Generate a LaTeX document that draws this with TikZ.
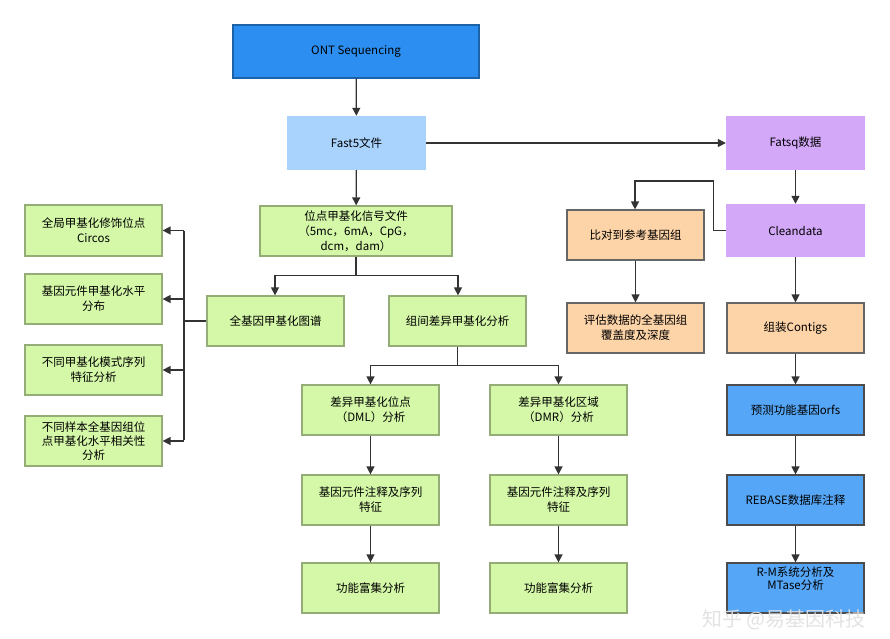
\documentclass[tikz,border=0pt]{standalone}
\usepackage{fontspec}
\setmainfont{Noto Sans CJK SC}
\usetikzlibrary{arrows.meta}
\definecolor{cblue}{HTML}{2B8EF0}
\definecolor{clblue}{HTML}{A9D3FD}
\definecolor{cpurp}{HTML}{D3A8F8}
\definecolor{corg}{HTML}{FDD3A8}
\definecolor{cgrn}{HTML}{D4F7A8}
\definecolor{cmblue}{HTML}{55A6F6}
\definecolor{cline}{HTML}{333333}
\begin{document}
\begin{tikzpicture}[x=1pt,y=-1pt,
 box/.style={draw=#1!70!black,line width=1.2pt,inner sep=0pt,align=center,font=\fontsize{11.5}{15}\selectfont},
 g/.style={box=cgrn,fill=cgrn},
 o/.style={box=corg,fill=corg,draw=gray!80!black},
 p/.style={fill=cpurp,inner sep=0pt,align=center,font=\fontsize{11.5}{15}\selectfont},
 ar/.style={draw=cline,line width=1.3pt,-{Triangle[length=8pt,width=8pt]}},
 ln/.style={draw=cline,line width=1.3pt}]
\useasboundingbox (0,0) rectangle (890,638);
\def\bx#1#2#3#4#5#6#7{\node[#2,minimum width=#5-#3,minimum height=#6-#4] (#1) at ({(#3+#5)/2},{(#4+#6)/2}) {#7};}
\bx{ont}{box=cblue,fill=cblue,draw=cblue!70!black}{233}{25}{479}{78}{ONT Sequencing}
\bx{f5}{p,fill=clblue}{287}{116}{426}{170}{Fast5文件}
\bx{fq}{p}{726}{116}{865}{170}{Fatsq数据}
\bx{cd}{p}{726}{204}{865}{257}{Cleandata}
\bx{bd}{o}{567}{210}{704}{260}{比对到参考基因组}
\bx{pg}{o}{567}{303}{704}{353}{评估数据的全基因组\\覆盖度及深度}
\bx{zz}{o}{727}{303}{864}{353}{组装Contigs}
\bx{yc}{box=cmblue,fill=cmblue,draw=gray!60!black}{727}{385}{864}{435}{预测功能基因orfs}
\bx{rb}{box=cmblue,fill=cmblue,draw=gray!60!black}{727}{475}{864}{525}{REBASE数据库注释}
\bx{rm}{box=cmblue,fill=cmblue,draw=gray!60!black}{727}{563}{864}{613}{}
\node[font=\fontsize{11.5}{13}\selectfont,align=center,anchor=north,inner sep=0pt] (rmt) at (795.5,567) {R-M系统分析及\\MTase分析};
\bx{wd}{g}{260}{206}{452}{256}{位点甲基化信号文件\\（5mc，6mA，CpG，\\dcm，dam）}
\bx{qj}{g}{207}{296}{344}{346}{全基因甲基化图谱}
\bx{zj}{g}{389}{296}{526}{346}{组间差异甲基化分析}
\bx{dml}{g}{302}{385}{439}{435}{差异甲基化位点\\（DML）分析}
\bx{dmr}{g}{490}{385}{627}{435}{差异甲基化区域\\（DMR）分析}
\bx{ja}{g}{302}{475}{439}{525}{基因元件注释及序列\\特征}
\bx{jb}{g}{490}{475}{627}{525}{基因元件注释及序列\\特征}
\bx{ga}{g}{302}{563}{439}{613}{功能富集分析}
\bx{gb}{g}{490}{563}{627}{613}{功能富集分析}
\bx{l1}{g}{25}{205}{162}{256}{全局甲基化修饰位点\\Circos}
\bx{l2}{g}{25}{274}{162}{324}{基因元件甲基化水平\\分布}
\bx{l3}{g}{25}{345}{162}{395}{不同甲基化模式序列\\特征分析}
\bx{l4}{g,font=\fontsize{11.5}{14}\selectfont}{25}{416}{162}{466}{不同样本全基因组位\\点甲基化水平相关性\\分析}
\draw[ar] (ont) -- (f5);
\draw[ar] (f5) -- (fq);
\draw[ar] (f5) -- (wd);
\draw[ar] (wd.south) -- ++(0,19) -| (qj.north -| 275,0);
\draw[ar] (wd.south) -- ++(0,19) -| (zj.north -| 458,0);
\draw[ar] (zj.south) -- ++(0,19) -| (dml);
\draw[ar] (zj.south) -- ++(0,19) -| (dmr);
\draw[ar] (dml) -- (ja); \draw[ar] (ja) -- (ga);
\draw[ar] (dmr) -- (jb); \draw[ar] (jb) -- (gb);
\coordinate (bus) at (184,321);
\draw[ln] (qj.west) -- (bus);
\draw[ln] (184,231) -- (184,440);
\foreach \n in {l1,l2,l3,l4} \draw[ar] (\n.east -| bus) -- (\n.east);
\draw[ar] (fq) -- (cd);
\draw[ar] (cd.west) -- ++(-12,0) |- (635,181) -- (bd.north -| 635,0);
\draw[ar] (bd) -- (pg);
\draw[ar] (cd.south -| zz.north) -- (zz);
\draw[ar] (zz) -- (yc); \draw[ar] (yc) -- (rb); \draw[ar] (rb) -- (rm);
\node[text=gray!25,opacity=0.9,font=\fontsize{20}{22}\selectfont,anchor=south east,inner sep=0pt] (wm) at (866,630) {知乎 @易基因科技};
\end{tikzpicture}
\end{document}
